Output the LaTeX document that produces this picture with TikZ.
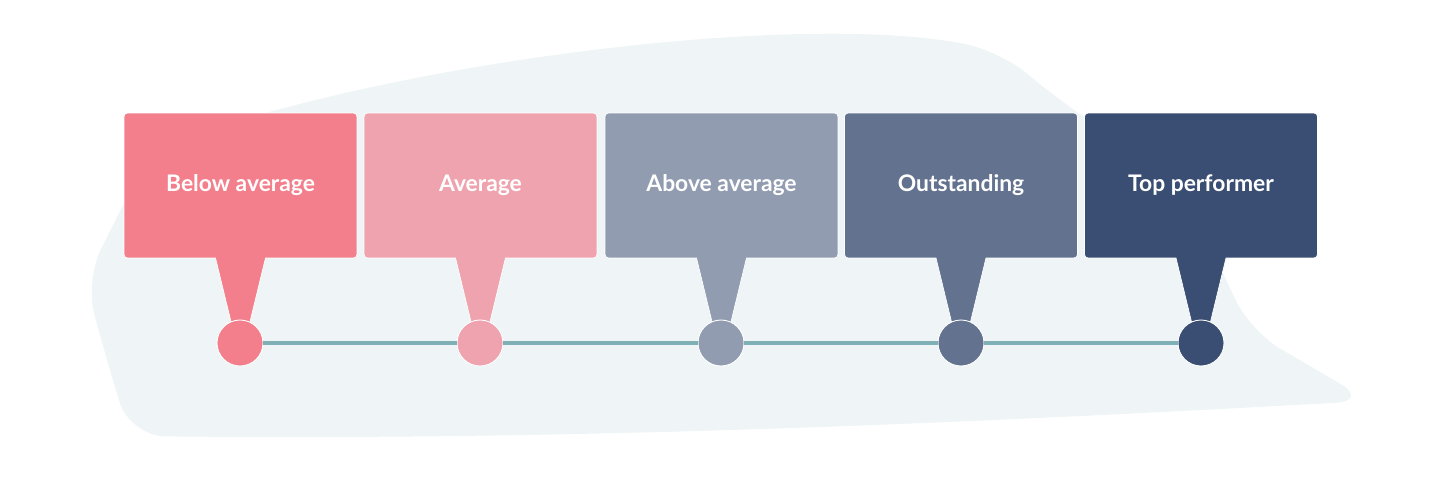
\documentclass[tikz,border=0pt]{standalone}
\usepackage{fontspec}
\setmainfont{Lato}
\usetikzlibrary{positioning,shapes.callouts}
\definecolor{lvlA}{HTML}{F27F8B}
\definecolor{lvlB}{HTML}{EFA3AE}
\definecolor{lvlC}{HTML}{919CB0}
\definecolor{lvlD}{HTML}{62728F}
\definecolor{lvlE}{HTML}{3A4D72}
\definecolor{brush}{HTML}{EFF5F6}
\definecolor{track}{HTML}{7FB0B5}
\tikzstyle{level} = [rectangle callout, rounded corners=2pt, minimum width=4.66cm, minimum height=2.9cm, text=white, font=\bfseries\fontsize{13}{15}\selectfont, draw=white, line width=0.4pt, callout relative pointer={(0,-103)}, callout pointer width=1cm]
\tikzstyle{dot} = [circle, minimum size=0.92cm, draw=white, line width=0.5pt]
\tikzstyle{link} = [track, line width=0.7mm]
\begin{document}
\begin{tikzpicture}[x=0.02cm,y=0.02cm]
		\useasboundingbox (0,0) rectangle (1440,481);
		% Brush background
		\fill[brush, rounded corners=20pt] (150,330) .. controls (400,420) and (800,470) .. (1000,430) -- (1060,380) -- (1180,300) -- (1250,150) -- (1370,80) .. controls (1000,60) and (600,40) .. (130,45) -- (110,110) -- (85,200) -- cycle;
		% Nodes
		\node (below) [level, fill=lvlA] at (240.5,295.5) {Below average};
		\node (average) [level, fill=lvlB] at (480.5,295.5) {Average};
		\node (above) [level, fill=lvlC] at (721.5,295.5) {Above average};
		\node (outst) [level, fill=lvlD] at (961,295.5) {Outstanding};
		\node (top) [level, fill=lvlE] at (1201,295.5) {Top performer};
		\node (d1) [dot, fill=lvlA] at (240,138) {};
		\node (d2) [dot, fill=lvlB] at (480,138) {};
		\node (d3) [dot, fill=lvlC] at (721,138) {};
		\node (d4) [dot, fill=lvlD] at (961,138) {};
		\node (d5) [dot, fill=lvlE] at (1201,138) {};
		% Track
		\draw [link] (d1) -- (d2);
		\draw [link] (d2) -- (d3);
		\draw [link] (d3) -- (d4);
		\draw [link] (d4) -- (d5);
	\end{tikzpicture}
\end{document}
